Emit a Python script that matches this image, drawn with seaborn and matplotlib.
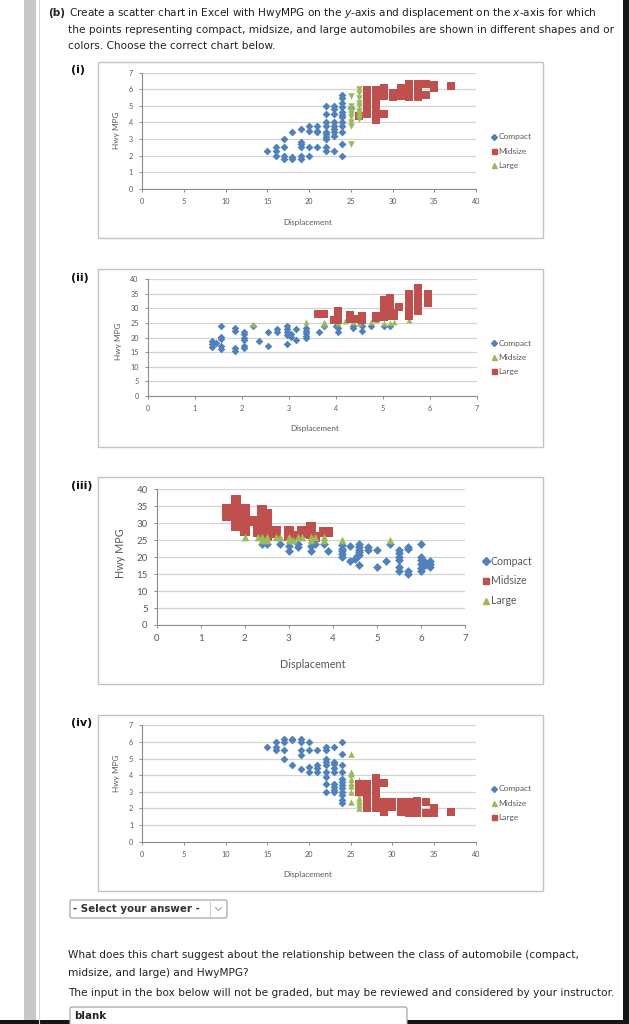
import numpy as np
import pandas as pd
import matplotlib
matplotlib.use("Agg")
import matplotlib.pyplot as plt
import seaborn as sns
from matplotlib.patches import Rectangle, FancyBboxPatch
from matplotlib.lines import Line2D

# ---------------- data: chart (i) ----------------
i_compact_x = [15, 16, 16, 16, 17, 17, 17, 17, 18, 18, 18, 19, 19, 19, 19, 19, 19,
               20, 20, 20, 20, 21, 21, 21, 21,
               22, 22, 22, 22, 22, 22, 22, 22, 22, 22,
               23, 23, 23, 23, 23, 23, 23, 23, 23,
               24, 24, 24, 24, 24, 24, 24, 24, 24, 24, 24, 24, 25]
i_compact_y = [2.3, 2.5, 2.3, 2.0, 3.0, 2.5, 2.0, 1.8, 3.4, 1.9, 1.8, 3.6, 2.8, 2.7, 2.5, 2.0, 1.8,
               3.8, 3.5, 2.5, 2.0, 3.8, 3.5, 3.4, 2.5,
               5.0, 4.5, 4.0, 3.8, 3.4, 3.3, 3.1, 3.0, 2.5, 2.3,
               5.0, 4.8, 4.5, 4.0, 3.8, 3.6, 3.45, 3.2, 2.3,
               5.65, 5.5, 5.2, 4.95, 4.65, 4.45, 4.3, 4.05, 3.8, 3.45, 2.7, 2.0, 4.9]
i_midsize_x = [26, 27, 27, 27, 27, 27, 27, 28, 28, 28, 28, 28, 28, 28,
               29, 29, 29, 29, 30, 30, 31, 31, 31, 32, 32, 32, 32,
               33, 33, 33, 33, 34, 34, 35, 35, 37]
i_midsize_y = [4.4, 5.95, 5.65, 5.35, 5.05, 4.75, 4.5, 5.95, 5.65, 5.35, 5.05, 4.75, 4.45, 4.15,
               6.1, 5.8, 5.6, 4.5, 5.75, 5.55, 6.1, 5.8, 5.6, 6.3, 6.0, 5.7, 5.55,
               6.3, 6.0, 5.75, 5.55, 6.3, 5.65, 6.25, 6.05, 6.2]
i_large_x = [25, 25, 25, 25, 25, 25, 25, 25, 26, 26, 26, 26, 26, 26, 26, 26, 26]
i_large_y = [5.6, 5.0, 4.7, 4.5, 4.3, 4.0, 3.8, 2.7, 6.0, 5.8, 5.5, 5.2, 5.0, 4.7, 4.5, 4.3, 4.2]

# ---------------- data: chart (ii) ----------------
ii_compact_x = [1.36, 1.36, 1.36, 1.46, 1.56, 1.56, 1.56, 1.56, 1.56,
                1.85, 1.85, 1.85, 1.85, 2.05, 2.05, 2.05, 2.05, 2.05, 2.05,
                2.25, 2.36, 2.56, 2.56, 2.76, 2.76,
                2.96, 2.96, 2.96, 2.96, 2.96, 3.05, 3.05, 3.16, 3.16,
                3.37, 3.37, 3.37, 3.37, 3.37,
                3.65, 3.76, 4.0, 4.05, 4.05, 4.36, 4.36, 4.57, 4.57, 4.75, 5.03, 5.15]
ii_compact_y = [18.9, 17.7, 16.9, 18.1, 24.0, 20.3, 19.5, 17.1, 16.1,
                23.2, 22.3, 16.3, 15.4, 22.0, 21.1, 20.0, 19.2, 17.1, 16.3,
                24.0, 18.9, 22.0, 17.1, 22.9, 22.0,
                24.0, 23.0, 22.0, 20.9, 17.8, 21.1, 20.3, 22.9, 19.1,
                23.2, 22.3, 21.5, 20.6, 19.8,
                22.0, 24.1, 24.0, 23.2, 22.0, 24.0, 23.2, 24.0, 22.3, 24.0, 24.0, 24.0]
ii_midsize_x = [2.25, 3.37, 3.76, 3.76, 4.05, 4.2, 4.36, 4.5, 4.75, 4.85, 5.03, 5.15, 5.24, 5.56]
ii_midsize_y = [24.6, 25.3, 25.3, 24.6, 24.9, 25.6, 25.3, 24.9, 25.3, 26.0, 24.9, 24.9, 25.5, 26.1]
ii_large_x = [3.62, 3.76, 3.96, 4.05, 4.05, 4.05, 4.3, 4.3, 4.46, 4.56, 4.56, 4.85, 4.85,
              5.03, 5.03, 5.03, 5.03, 5.03, 5.15, 5.15, 5.15, 5.15, 5.15, 5.24, 5.24, 5.35,
              5.56, 5.56, 5.56, 5.56, 5.56, 5.56, 5.76, 5.76, 5.76, 5.76, 5.76, 5.76,
              5.96, 5.96, 5.96]
ii_large_y = [28.0, 28.0, 26.0, 29.0, 27.5, 26.2, 27.8, 26.5, 26.5, 27.5, 26.0, 27.5, 26.8,
              33.0, 31.5, 30.0, 28.5, 27.0, 33.5, 32.0, 30.5, 29.0, 27.5, 28.5, 27.3, 30.5,
              35.0, 33.5, 32.0, 30.5, 29.0, 27.3, 37.0, 35.5, 34.0, 32.5, 31.0, 29.3,
              35.0, 33.5, 32.0]

# ---------------- data: chart (iii) ----------------
iii_compact_x = [2.4, 2.5, 2.8, 3.0, 3.0, 3.2, 3.2, 3.5, 3.5, 3.6, 3.8, 3.9,
                 4.2, 4.2, 4.2, 4.2, 4.2, 4.4, 4.4, 4.5, 4.55,
                 4.6, 4.6, 4.6, 4.6, 4.6, 4.6, 4.8, 4.8, 5.0, 5.0, 5.2, 5.3,
                 5.5, 5.5, 5.5, 5.5, 5.5, 5.5, 5.7, 5.7, 5.7, 5.7,
                 6.0, 6.0, 6.0, 6.0, 6.0, 6.0, 6.1, 6.1, 6.2, 6.2, 6.2]
iii_compact_y = [23.8, 23.8, 23.8, 23.2, 21.8, 23.8, 23.0, 23.2, 21.9, 23.8, 23.8, 21.9,
                 23.5, 22.5, 21.8, 20.8, 20.0, 23.2, 18.9, 19.6, 20.3,
                 24.0, 23.0, 22.0, 21.4, 20.6, 17.8, 23.0, 22.0, 22.0, 17.0, 18.9, 24.0,
                 22.0, 21.1, 20.1, 19.1, 17.2, 15.9, 23.0, 22.3, 15.9, 15.1,
                 24.0, 20.1, 19.1, 18.1, 16.7, 15.9, 18.6, 17.6, 18.8, 18.1, 17.2]
iii_midsize_x = [1.6, 1.6, 1.8, 1.8, 1.8, 1.8, 1.8, 2.0, 2.0, 2.0, 2.0, 2.2, 2.3, 2.3,
                 2.4, 2.4, 2.4, 2.4, 2.5, 2.5, 2.5, 2.5, 2.7, 2.7, 3.0, 3.0, 3.1,
                 3.3, 3.3, 3.5, 3.5, 3.6, 3.8, 3.9]
iii_midsize_y = [34.3, 32.2, 36.8, 34.5, 32.2, 30.0, 29.2, 34.3, 32.0, 29.8, 27.8, 30.8, 28.8, 27.3,
                 33.8, 31.5, 29.3, 27.2, 32.8, 30.5, 28.3, 26.3, 27.8, 27.2, 27.8, 26.2, 26.3,
                 27.8, 27.2, 28.8, 26.7, 26.0, 27.3, 27.3]
iii_large_x = [2.0, 2.3, 2.4, 2.4, 2.5, 2.5, 2.7, 2.8, 3.0, 3.0, 3.1, 3.2, 3.3,
               3.5, 3.5, 3.6, 3.8, 3.8, 4.2, 5.3]
iii_large_y = [26.0, 25.8, 25.8, 25.0, 25.8, 25.0, 26.0, 25.8, 25.8, 25.0, 25.0, 26.0, 26.0,
               25.8, 25.0, 25.8, 25.8, 25.0, 25.0, 25.0]

# ---------------- data: chart (iv) ----------------
iv_compact_x = [15, 16, 16, 16, 17, 17, 17, 17, 18, 18, 18,
                19, 19, 19, 19, 19, 20, 20, 20, 20, 21, 21, 21, 21,
                22, 22, 22, 22, 22, 22, 22, 22, 22,
                23, 23, 23, 23, 23, 23, 23, 23, 23,
                24, 24, 24, 24, 24, 24, 24, 24, 24, 24, 24, 24]
iv_compact_y = [5.67, 6.0, 5.67, 5.5, 6.2, 6.0, 5.5, 5.0, 6.17, 6.1, 4.6,
                6.2, 6.0, 5.5, 5.2, 4.4, 6.0, 5.5, 4.5, 4.2, 5.5, 4.6, 4.45, 4.2,
                5.67, 5.5, 5.0, 4.8, 4.6, 4.2, 3.9, 3.5, 3.0,
                5.67, 4.8, 4.65, 4.45, 4.2, 3.5, 3.3, 3.1, 3.0,
                6.0, 5.3, 4.6, 4.2, 3.75, 3.6, 3.4, 3.2, 3.0, 2.8, 2.5, 2.35]
iv_midsize_x = [25, 25, 25, 25, 25, 25, 25, 25, 26, 26, 26, 26, 26, 26, 26]
iv_midsize_y = [5.3, 4.2, 4.05, 3.75, 3.55, 3.35, 3.0, 2.4, 3.7, 3.3, 2.9, 2.65, 2.45, 2.25, 2.0]
iv_large_x = [26, 26, 27, 27, 27, 27, 27, 27, 28, 28, 28, 28, 28, 28, 28,
              29, 29, 29, 29, 30, 30, 31, 31, 31, 32, 32, 32, 32,
              33, 33, 33, 34, 34, 35, 35, 37]
iv_large_y = [3.5, 3.0, 3.45, 3.15, 2.85, 2.55, 2.25, 2.0, 3.85, 3.55, 3.25, 2.95, 2.65, 2.35, 2.05,
              3.55, 2.4, 2.1, 1.8, 2.4, 2.1, 2.4, 2.1, 1.8, 2.4, 2.1, 1.8, 1.7,
              2.45, 2.0, 1.7, 2.4, 1.75, 2.0, 1.7, 1.8]

BLUE, RED, GREEN = "#4F81BD", "#C0504D", "#9BBB59"
CHART_FONT = "Lato"
PAGE_FONT = "DejaVu Sans"
plt.rcParams["mathtext.fontset"] = "dejavusans"

W, H = 629, 1024
fig = plt.figure(figsize=(W / 100, H / 100), dpi=100)
fig.patch.set_facecolor("white")

bg = fig.add_axes([0, 0, 1, 1])
bg.set_xlim(0, W)
bg.set_ylim(H, 0)
bg.axis("off")

# page decoration
bg.add_patch(Rectangle((24, 0), 12, H, color="#c8c8c8", lw=0))
bg.plot([38.5, 38.5], [0, H], color="#d6d6d6", lw=0.8)
bg.add_patch(Rectangle((623, 0), 6, H, color="#151515", lw=0))
bg.add_patch(Rectangle((0, 1020), W, 4, color="#151515", lw=0))

TXT = "#222222"
pfs = 7.55
bg.text(48, 13, "(b)", fontsize=pfs, weight="bold", color=TXT, va="center", family=PAGE_FONT)
bg.text(69, 13, "Create a scatter chart in Excel with HwyMPG on the $\\mathit{y}$-axis and displacement on the $\\mathit{x}$-axis for which",
        fontsize=pfs, color=TXT, va="center", family=PAGE_FONT)
bg.text(68, 30, "the points representing compact, midsize, and large automobiles are shown in different shapes and or",
        fontsize=pfs, color=TXT, va="center", family=PAGE_FONT)
bg.text(68, 46, "colors. Choose the correct chart below.", fontsize=pfs, color=TXT, va="center", family=PAGE_FONT)

for lab, yy in [("(i)", 70), ("(ii)", 278), ("(iii)", 486), ("(iv)", 723)]:
    bg.text(71, yy, lab, fontsize=8, weight="bold", color="#111111", va="center", family=PAGE_FONT)

# chart frames
for (l, t, r, b) in [(98, 62, 543, 238), (98, 269, 543, 447), (98, 477, 543, 684), (98, 715, 543, 891)]:
    bg.add_patch(Rectangle((l, t), r - l, b - t, fill=False, ec="#c4c4c4", lw=1.0))

# select box
bg.add_patch(FancyBboxPatch((70, 900), 157, 18, boxstyle="round,pad=0,rounding_size=2",
                            fc="white", ec="#a8a8a8", lw=0.9))
bg.plot([210, 210], [902, 916], color="#d0d0d0", lw=0.8)
bg.plot([215.5, 218.5, 221.5], [907.5, 910.5, 907.5], color="#9a9a9a", lw=0.7)
bg.text(73, 909.5, "- Select your answer -", fontsize=7.4, weight="bold", color="#333333",
        va="center", family=PAGE_FONT)

bg.text(68, 955, "What does this chart suggest about the relationship between the class of automobile (compact,",
        fontsize=pfs, color=TXT, va="center", family=PAGE_FONT)
bg.text(68, 973, "midsize, and large) and HwyMPG?", fontsize=pfs, color=TXT, va="center", family=PAGE_FONT)
bg.text(68, 993, "The input in the box below will not be graded, but may be reviewed and considered by your instructor.",
        fontsize=pfs, color=TXT, va="center", family=PAGE_FONT)
bg.add_patch(FancyBboxPatch((70, 1007), 337, 20, boxstyle="round,pad=0,rounding_size=2",
                            fc="white", ec="#a8a8a8", lw=0.9))
bg.text(74, 1016, "blank", fontsize=7.4, weight="bold", color="#222222", va="center", family=PAGE_FONT)


def make_ax(l, t, r, b):
    return fig.add_axes([l / W, 1 - b / H, (r - l) / W, (b - t) / H])


def style(ax, xmax, xstep, ymax, ystep, fs):
    ax.set_xlim(0, xmax)
    ax.set_ylim(0, ymax)
    ax.set_xticks(np.arange(0, xmax + 0.01, xstep))
    ax.set_yticks(np.arange(0, ymax + 0.01, ystep))
    ax.set_facecolor("none")
    ax.grid(False)
    ax.yaxis.grid(True, color="#d4d4d4", lw=0.9)
    ax.set_axisbelow(True)
    for s in ["top", "right"]:
        ax.spines[s].set_visible(False)
    for s in ["left", "bottom"]:
        ax.spines[s].set_color("#8c8c8c")
        ax.spines[s].set_linewidth(0.8)
    ax.tick_params(axis="both", colors="#8c8c8c", labelcolor="#595959", labelsize=fs,
                   length=2.5, width=0.7, pad=4)
    for lab in ax.get_xticklabels() + ax.get_yticklabels():
        lab.set_family(CHART_FONT)
    ax.set_xlabel("")
    ax.set_ylabel("")


def draw(ax, series, sizes):
    for (xs, ys, name, marker, color), s in zip(series, sizes):
        df = pd.DataFrame({"Displacement": xs, "HwyMPG": ys})
        sns.scatterplot(data=df, x="Displacement", y="HwyMPG", marker=marker, color=color,
                        s=s, linewidth=0, ax=ax, legend=False, zorder=3)


def legend(ax, series, x, y, fs, ms, spacing):
    handles = [Line2D([], [], ls="", marker=m, color=c, markersize=k)
               for (_, _, _, m, c), k in zip(series, ms)]
    labels = [s[2] for s in series]
    leg = ax.legend(handles, labels, loc="center left", bbox_to_anchor=(x / W, 1 - y / H),
                    bbox_transform=fig.transFigure, frameon=False,
                    handlelength=0.5, handletextpad=0.25, labelspacing=spacing,
                    borderpad=0, borderaxespad=0, prop={"family": CHART_FONT, "size": fs})
    for t in leg.get_texts():
        t.set_color("#595959")


def titles(xl, yx, yy, fs):
    bg.text(xl[0], xl[1], "Displacement", fontsize=fs, color="#595959", ha="center", va="center",
            family=CHART_FONT)
    bg.text(yx, yy, "Hwy MPG", fontsize=fs, color="#595959", ha="center", va="center",
            rotation=90, family=CHART_FONT)


# ---------- chart (i) ----------
ax1 = make_ax(142, 72.7, 476, 188.7)
s1 = [(i_compact_x, i_compact_y, "Compact", "D", BLUE),
      (i_midsize_x, i_midsize_y, "Midsize", "s", RED),
      (i_large_x, i_large_y, "Large", "v", GREEN)]
draw(ax1, s1, [16, 28, 22])
style(ax1, 40, 5, 7, 1, 5.2)
legend(ax1, [s1[0], s1[1], (None, None, "Large", "^", GREEN)], 492, 151, 6.0, [3.0, 3.6, 3.6], 0.85)
titles((308, 222), 116, 130, 5.9)

# ---------- chart (ii) ----------
ax2 = make_ax(147.7, 279.3, 476.7, 396)
s2 = [(ii_compact_x, ii_compact_y, "Compact", "D", BLUE),
      (ii_midsize_x, ii_midsize_y, "Midsize", "^", GREEN),
      (ii_large_x, ii_large_y, "Large", "s", RED)]
draw(ax2, s2, [15, 18, 28])
style(ax2, 7, 1, 40, 5, 5.2)
legend(ax2, s2, 492, 357.7, 6.0, [3.0, 3.6, 3.6], 0.85)
titles((315, 428), 118, 341, 5.9)

# ---------- chart (iii) ----------
ax3 = make_ax(156.7, 489.3, 465, 625)
s3 = [(iii_compact_x, iii_compact_y, "Compact", "D", BLUE),
      (iii_midsize_x, iii_midsize_y, "Midsize", "s", RED),
      (iii_large_x, iii_large_y, "Large", "^", GREEN)]
draw(ax3, s3, [20, 42, 30])
style(ax3, 7, 1, 40, 5, 7.0)
legend(ax3, s3, 483, 581, 7.6, [3.8, 4.8, 4.8], 0.85)
titles((313, 665), 121, 553, 7.8)

# ---------- chart (iv) ----------
ax4 = make_ax(142.3, 725.3, 475.7, 841.7)
s4 = [(iv_compact_x, iv_compact_y, "Compact", "D", BLUE),
      (iv_midsize_x, iv_midsize_y, "Midsize", "^", GREEN),
      (iv_large_x, iv_large_y, "Large", "s", RED)]
draw(ax4, s4, [16, 22, 28])
style(ax4, 40, 5, 7, 1, 5.2)
legend(ax4, s4, 492, 803, 6.0, [3.0, 3.6, 3.6], 0.85)
titles((308, 874), 116, 773, 5.9)

fig.savefig("out.png", dpi=100, facecolor="white")
